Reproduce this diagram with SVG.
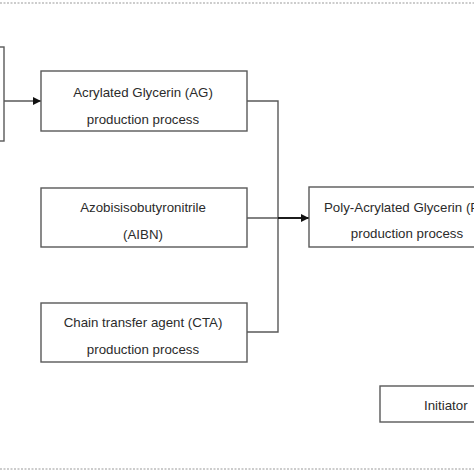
<svg xmlns="http://www.w3.org/2000/svg" width="474" height="474" viewBox="0 0 474 474">
<defs>
<style>
.box{fill:#fff;stroke:#595959;stroke-width:1.4}
.ln{fill:none;stroke:#595959;stroke-width:1.4}
.t{font-family:"Liberation Sans",Arial,sans-serif;font-size:13.3px;fill:#2b2b2b;text-anchor:middle}
.dash{stroke:#9a9a9a;stroke-width:1.2;stroke-dasharray:2 1.5}
</style>
<marker id="ah" viewBox="0 0 10 10" refX="10" refY="5" markerWidth="8" markerHeight="8" markerUnits="userSpaceOnUse" orient="auto">
<path d="M0,0 L10,5 L0,10 z" fill="#111"/>
</marker>
</defs>
<rect width="474" height="474" fill="#fff"/>
<line class="dash" x1="0" y1="3" x2="474" y2="3"/>
<line class="dash" x1="0" y1="469" x2="474" y2="469"/>
<g id="connectors">
<line class="ln" x1="4" y1="101" x2="41" y2="101" marker-end="url(#ah)" stroke="#222"/>
<polyline class="ln" points="247,101 278,101 278,332 247,332"/>
<line class="ln" x1="247" y1="218" x2="309" y2="218"/>
<line x1="278" y1="218" x2="309" y2="218" stroke="#111" stroke-width="1.8" marker-end="url(#ah)"/>
</g>
<g id="left-node">
<rect class="box" x="-100" y="47" width="104" height="94"/>
</g>
<g id="ag">
<rect class="box" x="41" y="71" width="206" height="60"/>
<text class="t" x="143" y="97">Acrylated Glycerin (AG)</text>
<text class="t" x="143" y="124">production process</text>
</g>
<g id="aibn">
<rect class="box" x="41" y="188" width="206" height="59"/>
<text class="t" x="143" y="212">Azobisisobutyronitrile</text>
<text class="t" x="143" y="239">(AIBN)</text>
</g>
<g id="cta">
<rect class="box" x="41" y="303" width="206" height="59"/>
<text class="t" x="143" y="327">Chain transfer agent (CTA)</text>
<text class="t" x="143" y="354">production process</text>
</g>
<g id="pag">
<rect class="box" x="309" y="187" width="196" height="60"/>
<text class="t" x="324" y="212" style="text-anchor:start">Poly-Acrylated Glycerin (PAG)</text>
<text class="t" x="407" y="238">production process</text>
</g>
<g id="initiator">
<rect class="box" x="380" y="386" width="130" height="36"/>
<text class="t" x="424" y="410" style="text-anchor:start">Initiator</text>
</g>
</svg>
